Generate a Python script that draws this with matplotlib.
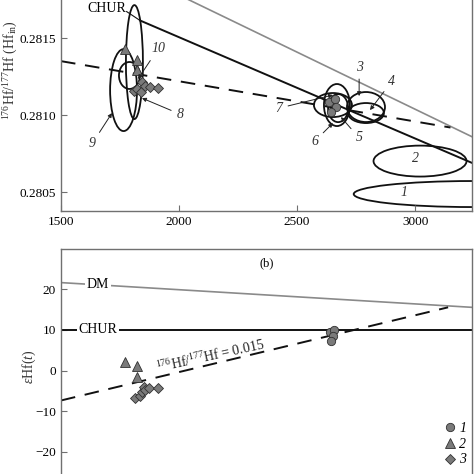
import matplotlib
matplotlib.use("Agg")
import matplotlib.pyplot as plt
from matplotlib.patches import Ellipse
from matplotlib.lines import Line2D

plt.rcParams['font.family'] = ['Liberation Serif', 'DejaVu Serif']
plt.rcParams['mathtext.fontset'] = 'custom'
plt.rcParams['mathtext.rm'] = 'Liberation Serif'
plt.rcParams['mathtext.it'] = 'Liberation Serif:italic'
plt.rcParams['font.size'] = 9.5

# --- data ---
# panel (a): 176Hf/177Hf initial vs age (Ma)
circ_age_a = [2636, 2661, 2665, 2644]
circ_hf_a = [0.281084, 0.281104, 0.281052, 0.281019]
tri_age_a = [1771, 1822, 1822]
tri_hf_a = [0.281429, 0.281357, 0.281292]
dia_age_a = [1809, 1822, 1839, 1843, 1856, 1877, 1911]
dia_hf_a = [0.281156, 0.281169, 0.281149, 0.281214, 0.281188, 0.281182, 0.281175]

dm_age_a = [1500, 3240]
dm_hf_a = [0.28215, 0.28086]
chur_age_a = [1835, 3240]
chur_hf_a = [0.281614, 0.28069]
lu_age_a = [1500, 3150]
lu_hf_a = [0.28135, 0.280919]

# outlines: label, centre age, centre ratio, width (Ma), height
ell_names = ['1', '2', '3', '4', '5', '6', '7', '8', '9', '10']
ell_age = [3240, 3021, 2792, 2792, 2674, 2669, 2652, 1811, 1765, 1790]
ell_hf = [0.280487, 0.280701, 0.281052, 0.281013, 0.281045, 0.281065, 0.281065,
          0.281344, 0.281162, 0.281257]
ell_w = [1000, 394, 161, 152, 85, 110, 161, 72, 114, 89]
ell_h = [0.000169, 0.000201, 0.000195, 0.00013, 0.000182, 0.000273, 0.000156,
         0.00074, 0.000532, 0.000175]

# panel (b): eHf(t) vs age
circ_age_b = [2640, 2657, 2653, 2644]
circ_eps_b = [9.5, 10.0, 8.6, 7.2]
tri_age_b = [1771, 1822, 1822]
tri_eps_b = [2.2, 1.0, -1.5]
dia_age_b = [1814, 1835, 1843, 1852, 1856, 1873, 1911]
dia_eps_b = [-6.9, -6.2, -5.4, -4.0, -4.7, -4.2, -4.4]

dm_age_b = [1500, 3240]
dm_eps_b = [21.7, 15.6]
chur_age_b = [1500, 3240]
chur_eps_b = [10, 10]
lu_age_b = [1500, 3140]
lu_eps_b = [-7.4, 15.6]

xlim = (1500, 3241)
spine_c = '#707070'
face_c = '#7a7a7a'
edge_c = '#303030'
dash = (0, (7.5, 5))

fig = plt.figure(figsize=(4.74, 4.74), dpi=100)
ax1 = fig.add_axes([0.1287, 0.5549, 0.867, 0.5084])
ax2 = fig.add_axes([0.1287, -0.038, 0.867, 0.5127])

for ax in (ax1, ax2):
    for s in ax.spines.values():
        s.set_color(spine_c)
        s.set_linewidth(1.0)
    ax.tick_params(direction='in', length=4, width=0.8, color=spine_c)
    ax.set_xlim(*xlim)
    ax.set_xticks([1500, 2000, 2500, 3000])
ax2.tick_params(labelbottom=False)

# ---- panel (a) ----
ax1.plot(dm_age_a, dm_hf_a, color='#8a8a8a', lw=1.2)
ax1.plot(chur_age_a, chur_hf_a, color='#111111', lw=1.4)
ax1.plot(lu_age_a, lu_hf_a, color='#111111', lw=1.4, linestyle=dash)

for i in range(len(ell_names)):
    ax1.add_patch(Ellipse((ell_age[i], ell_hf[i]), ell_w[i], ell_h[i],
                          fill=False, edgecolor='#111111', lw=1.3))

ax1.plot(tri_age_a, tri_hf_a, '^', ms=6.5, mfc=face_c, mec=edge_c, mew=0.6)
ax1.plot(dia_age_a, dia_hf_a, 'D', ms=5, mfc=face_c, mec=edge_c, mew=0.6)
ax1.plot(circ_age_a, circ_hf_a, 'o', ms=6, mfc=face_c, mec=edge_c, mew=0.6)

ax1.text(1695, 0.281695, 'CHUR', ha='center', va='center', fontsize=10)
ax1.plot([1778, 1835], [0.281672, 0.281614], color='#111111', lw=0.8)

arr = dict(arrowstyle='-|>', lw=0.7, color='#222222', mutation_scale=6,
           shrinkA=2, shrinkB=0)
labels_a = [
    ('3', (2763, 0.281312), (2763, 0.281123)),
    ('4', (2902, 0.281221), (2809, 0.281032)),
    ('5', (2763, 0.280851), (2686, 0.280987)),
    ('6', (2576, 0.280831), (2652, 0.280948)),
    ('7', (2424, 0.281045), (2652, 0.281130)),
    ('8', (2004, 0.281006), (1843, 0.281110)),
    ('9', (1631, 0.280812), (1716, 0.281013)),
    ('10', (1911, 0.281429), (1826, 0.281234)),
]
for name, txt, tip in labels_a:
    ax1.annotate(name, xy=tip, xytext=txt, ha='center', va='center',
                 fontsize=10, style='italic', color='#333333', arrowprops=arr)
ax1.text(2953, 0.2805, '1', ha='center', va='center', fontsize=10,
         style='italic', color='#333333')
ax1.text(3000, 0.280721, '2', ha='center', va='center', fontsize=10,
         style='italic', color='#333333')

ax1.set_ylim(0.280377, 0.281942)
ax1.set_yticks([0.2805, 0.2810, 0.2815])
ax1.set_yticklabels(['0.2805', '0.2810', '0.2815'])
ax1.set_ylabel(r'$^{176}$Hf/$^{177}$Hf (Hf$_{\rm in}$)', fontsize=10,
               color='#333333')
ax1.yaxis.set_label_coords(-0.1, 0.585)

# ---- panel (b) ----
ax2.plot(dm_age_b, dm_eps_b, color='#8a8a8a', lw=1.2)
ax2.plot(chur_age_b, chur_eps_b, color='#111111', lw=1.4)
ax2.plot(lu_age_b, lu_eps_b, color='#111111', lw=1.4, linestyle=dash)

ax2.plot(tri_age_b, tri_eps_b, '^', ms=6.5, mfc=face_c, mec=edge_c, mew=0.6)
ax2.plot(dia_age_b, dia_eps_b, 'D', ms=5, mfc=face_c, mec=edge_c, mew=0.6)
ax2.plot(circ_age_b, circ_eps_b, 'o', ms=6, mfc=face_c, mec=edge_c, mew=0.6)

wbox = dict(facecolor='white', edgecolor='none', pad=1)
ax2.text(1657, 21.2, 'DM', ha='center', va='center', fontsize=10, bbox=wbox)
ax2.text(1657, 10, 'CHUR', ha='center', va='center', fontsize=10, bbox=wbox)
ax2.text(2135, 3.6, r'$^{176}$Hf/$^{177}$Hf = 0.015', ha='center',
         va='center', fontsize=10, rotation=12.5, color='#222222')
ax2.text(2373, 26.4, '(b)', ha='center', va='center', fontsize=9)

ax2.set_ylim(-30, 30)
ax2.set_yticks([-20, -10, 0, 10, 20])
ax2.set_yticklabels(['\u221220', '\u221210', '0', '10', '20'])
ax2.set_ylabel(r'$\varepsilon$Hf($\it{t}$)', fontsize=10, color='#333333')
ax2.yaxis.set_label_coords(-0.056, 0.514)

handles = [
    Line2D([], [], marker='o', ls='none', ms=6, mfc=face_c, mec=edge_c, mew=0.6),
    Line2D([], [], marker='^', ls='none', ms=6.5, mfc=face_c, mec=edge_c, mew=0.6),
    Line2D([], [], marker='D', ls='none', ms=5, mfc=face_c, mec=edge_c, mew=0.6),
]
ax2.legend(handles, ['1', '2', '3'], loc='upper left',
           bbox_to_anchor=(0.937, 0.11), bbox_transform=fig.transFigure,
           frameon=False, handlelength=0.8, handletextpad=0.3,
           labelspacing=0.2, borderpad=0, borderaxespad=0,
           prop={'style': 'italic', 'size': 10})

fig.savefig('out.png', dpi=100)
